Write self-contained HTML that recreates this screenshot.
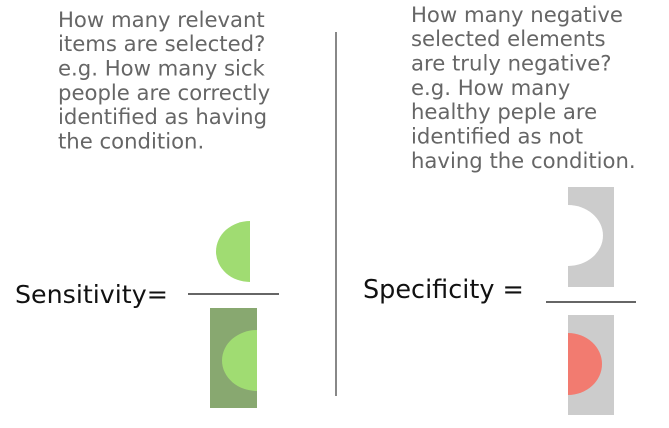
<!DOCTYPE html>
<html><head><style>body{margin:0;background:#fff}svg{display:block}</style></head><body>
<svg width="669" height="428" xmlns="http://www.w3.org/2000/svg" font-family="DejaVu Sans, Liberation Sans, sans-serif">
<g fill="#666" font-size="21.2">
<text x="58" y="27">How many relevant</text>
<text x="58" y="51">items are selected?</text>
<text x="58" y="75.5">e.g. How many sick</text>
<text x="58" y="100">people are correctly</text>
<text x="58" y="124">identified as having</text>
<text x="58" y="148.5">the condition.</text>
<text x="411" y="22">How many negative</text>
<text x="411" y="46">selected elements</text>
<text x="411" y="70.5">are truly negative?</text>
<text x="411" y="95">e.g. How many</text>
<text x="411" y="119">healthy peple are</text>
<text x="411" y="143.5">identified as not</text>
<text x="411" y="168">having the condition.</text>
</g>
<line x1="336" y1="32" x2="336" y2="396" stroke="#888" stroke-width="2"/>
<text x="15" y="303" font-size="25.3" fill="#111">Sensitivity=</text>
<text x="363" y="298" font-size="25.5" fill="#111">Specificity =</text>
<path d="M250,221 A34,30.5 0 0 0 250,282 Z" fill="#a0dc72"/>
<line x1="188" y1="294" x2="279" y2="294" stroke="#333" stroke-width="1.5"/>
<rect x="210" y="308" width="47" height="100" fill="#88a870"/>
<path d="M257,330 A35,30.5 0 0 0 257,391 Z" fill="#a0dc72"/>
<rect x="568" y="187" width="46" height="100" fill="#cccccc"/>
<path d="M568,205 A35,30.5 0 0 1 568,266 Z" fill="#fff"/>
<line x1="546" y1="302" x2="636" y2="302" stroke="#333" stroke-width="1.5"/>
<rect x="568" y="315" width="46" height="100" fill="#cccccc"/>
<path d="M568,333 A34,31 0 0 1 568,395 Z" fill="#f27b70"/>
</svg>
</body></html>
